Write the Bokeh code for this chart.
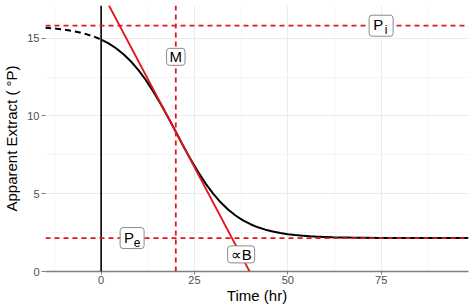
from bokeh.plotting import figure
from bokeh.models import Range1d, FixedTicker, Span, Slope, Label
from bokeh.embed import file_html
from bokeh.resources import INLINE

# Fitted fermentation parameters (apparent extract, degrees Plato)
P_i = 15.8      # initial extract
P_e = 2.15      # final extract
M = 20.0        # time of inflection (hr)
B = 0.133       # rate constant (1/hr)

# Extrapolated portion of the curve before pitching (t < 0)
t_pre = [-15, -14, -12, -10, -8, -6, -4, -2, 0]
p_pre = [15.67, 15.65, 15.61, 15.55, 15.48, 15.38, 15.26, 15.11, 14.91]

# Observed portion of the curve (t >= 0)
t_obs = [0, 2, 4, 6, 8, 10, 12, 14, 16, 18, 20, 22, 24, 26, 28, 30, 32, 34,
         36, 38, 40, 42, 44, 46, 48, 50, 52, 54, 56, 58, 60, 62, 64, 66, 68,
         70, 75, 80, 85, 90, 98.4]
p_obs = [14.91, 14.66, 14.35, 13.96, 13.50, 12.94, 12.30, 11.56, 10.75, 9.88,
         8.98, 8.07, 7.20, 6.39, 5.65, 5.01, 4.45, 3.99, 3.60, 3.29, 3.04,
         2.84, 2.69, 2.57, 2.47, 2.40, 2.34, 2.30, 2.26, 2.24, 2.22, 2.20,
         2.19, 2.18, 2.17, 2.17, 2.16, 2.15, 2.15, 2.15, 2.15]

x_ticks = [0, 25, 50, 75]
x_minor = [-12.5, 12.5, 37.5, 62.5, 87.5]
y_ticks = [0, 5, 10, 15]
y_minor = [2.5, 7.5, 12.5]

RED = "#e3161f"
GREY_AXIS = "#7f7f7f"
GRID = "#ebebeb"
FONT = "Liberation Sans"

p = figure(width=474, height=306,
           x_range=Range1d(-14.9, 98.4), y_range=Range1d(0, 17.1),
           output_backend="svg", toolbar_location=None,
           min_border_left=43, min_border_right=6,
           min_border_top=5, min_border_bottom=34)
p.outline_line_color = None
p.background_fill_color = "white"
p.border_fill_color = "white"

# grid
p.xgrid.ticker = FixedTicker(ticks=x_ticks, minor_ticks=x_minor)
p.ygrid.ticker = FixedTicker(ticks=y_ticks, minor_ticks=y_minor)
for g in (p.xgrid, p.ygrid):
    g.grid_line_color = GRID
    g.grid_line_width = 1
    g.minor_grid_line_color = "#f1f1f1"
    g.minor_grid_line_width = 0.7

# axes
p.xaxis.ticker = FixedTicker(ticks=x_ticks)
p.yaxis.ticker = FixedTicker(ticks=y_ticks)
for ax in (p.xaxis, p.yaxis):
    ax.major_label_text_font = FONT
    ax.major_label_text_font_size = "11px"
    ax.major_label_text_color = "#4d4d4d"
    ax.major_tick_line_color = GREY_AXIS
    ax.major_tick_in = 0
    ax.minor_tick_line_color = None
    ax.axis_label_text_font = FONT
    ax.axis_label_text_font_size = "15px"
    ax.axis_label_text_font_style = "normal"
    ax.axis_label_text_color = "black"

p.xaxis.axis_label = "Time (hr)"
p.xaxis.axis_line_color = GREY_AXIS
p.xaxis.axis_line_width = 1.6
p.xaxis.major_tick_out = 3
p.xaxis.major_label_standoff = 1
p.xaxis.axis_label_standoff = 0

p.yaxis.axis_label = "Apparent Extract ( \u00b0P)"
p.yaxis.axis_line_color = None
p.yaxis.major_tick_out = 4
p.yaxis.major_label_standoff = 2
p.yaxis.axis_label_standoff = 4

# curve
p.line(t_pre, p_pre, line_color="black", line_width=2, line_dash="6 4")
p.line(t_obs, p_obs, line_color="black", line_width=2)

# pitching time
p.add_layout(Span(location=0, dimension="height", line_color="black", line_width=1.6))

# tangent at the inflection point, slope proportional to B
grad = -(P_i - P_e) * B / 4
mid = (P_i + P_e) / 2
p.add_layout(Slope(gradient=grad, y_intercept=mid - grad * M,
                   line_color=RED, line_width=1.8))

# reference lines
for loc, dim in ((P_i, "width"), (P_e, "width"), (M, "height")):
    p.add_layout(Span(location=loc, dimension=dim, line_color=RED,
                      line_width=1.8, line_dash="5 4"))


def boxed(x, y, text, sub=None):
    if sub:
        pad = dict(left=4, right=10, top=1, bottom=3)
    else:
        pad = dict(left=3, right=3, top=0, bottom=0)
    p.add_layout(Label(x=x, y=y, text=text,
                       text_align="center", text_baseline="middle",
                       text_font=FONT, text_font_size="15px", text_color="black",
                       background_fill_color="white", border_line_color="#8a8a8a",
                       border_line_width=1, border_radius=3, padding=pad))
    if sub:
        p.add_layout(Label(x=x, y=y, text=sub, x_offset=5, y_offset=-4,
                           text_align="center", text_baseline="middle",
                           text_font=FONT, text_font_size="12px",
                           text_color="black"))


boxed(75, P_i, "P", "i")
boxed(8.3, P_e, "P", "e")
boxed(M, 13.8, "M")
boxed(37.5, 1.1, "\u221dB")

open("out.html", "w").write(file_html(p, INLINE))
